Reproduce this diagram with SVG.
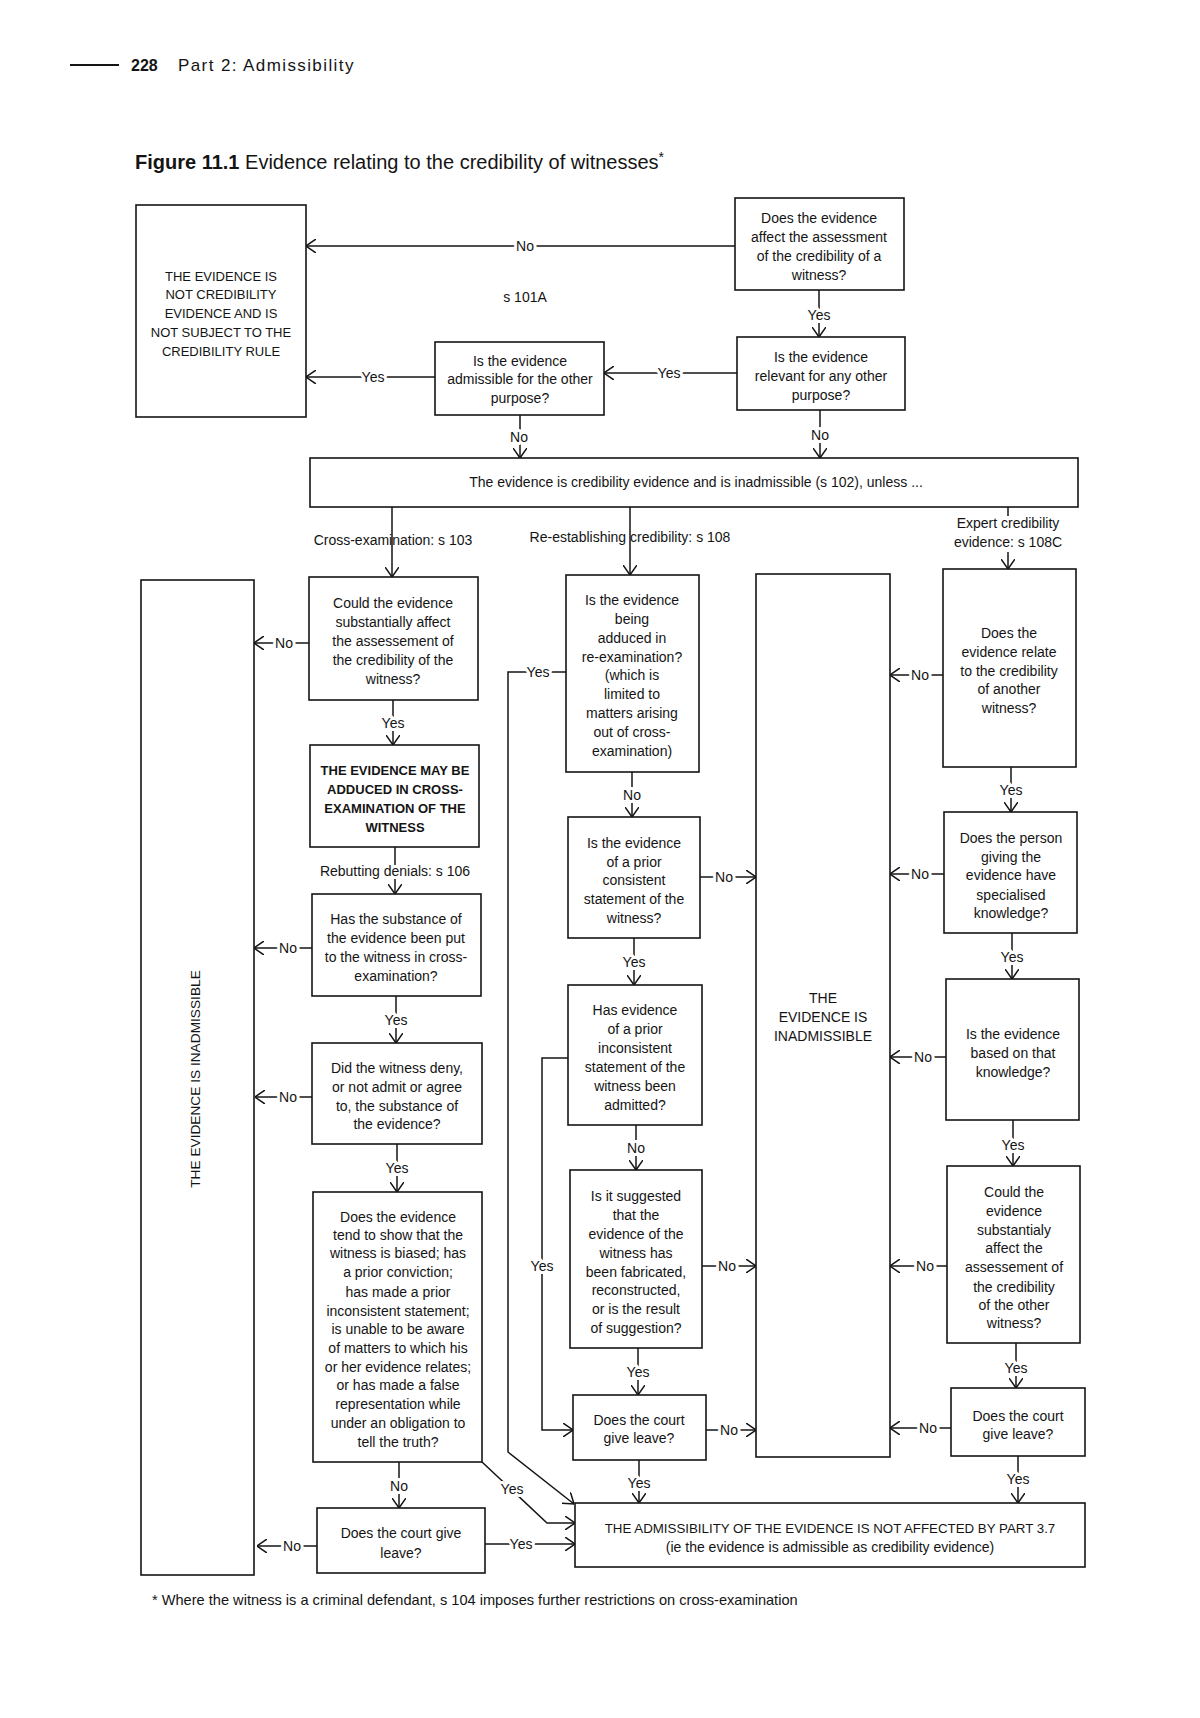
<svg xmlns="http://www.w3.org/2000/svg" width="1200" height="1718" viewBox="0 0 1200 1718">
<defs>
<style>
.b{fill:#fff;stroke:#141414;stroke-width:1.6}
.c{fill:none;stroke:#141414;stroke-width:1.5}
.t{font-family:"Liberation Sans",Arial,sans-serif;font-size:14px;fill:#141414;text-anchor:middle}
.cap{font-size:13px}
.bd{font-weight:bold}
.l{font-family:"Liberation Sans",Arial,sans-serif;font-size:14px;fill:#141414;text-anchor:middle;paint-order:stroke;stroke:#fff;stroke-width:6px;stroke-linejoin:round}
</style>
<marker id="a" viewBox="0 0 10 14" refX="10" refY="7" markerWidth="10" markerHeight="14" markerUnits="userSpaceOnUse" orient="auto">
<path d="M0,0 L10,7 L0,14" fill="none" stroke="#141414" stroke-width="1.5"/>
</marker>
</defs>
<rect width="1200" height="1718" fill="#fff"/>

<g id="header">
<path d="M70,65 H119" stroke="#141414" stroke-width="2"/>
<text x="131" y="71" style="font-family:'Liberation Sans',Arial,sans-serif;font-size:16px;font-weight:bold;fill:#141414">228</text>
<text x="178" y="71" style="font-family:'Liberation Sans',Arial,sans-serif;font-size:17px;letter-spacing:1.4px;fill:#141414">Part 2: Admissibility</text>
<text x="135" y="169" style="font-family:'Liberation Sans',Arial,sans-serif;font-size:20px;fill:#141414"><tspan font-weight="bold">Figure 11.1</tspan> Evidence relating to the credibility of witnesses<tspan dy="-7" font-size="14">*</tspan></text>
</g>

<g id="connectors">
<path class="c" d="M735,246 H306" marker-end="url(#a)"/>
<path class="c" d="M819,290 V337" marker-end="url(#a)"/>
<path class="c" d="M737,373 H604" marker-end="url(#a)"/>
<path class="c" d="M435,377 H306" marker-end="url(#a)"/>
<path class="c" d="M520,415 V458" marker-end="url(#a)"/>
<path class="c" d="M820,410 V458" marker-end="url(#a)"/>
<path class="c" d="M392,507 V577" marker-end="url(#a)"/>
<path class="c" d="M630,507 V575" marker-end="url(#a)"/>
<path class="c" d="M1008,507 V516"/>
<path class="c" d="M1008,552 V569" marker-end="url(#a)"/>
<path class="c" d="M309,643 H254" marker-end="url(#a)"/>
<path class="c" d="M393,700 V745" marker-end="url(#a)"/>
<path class="c" d="M395,847 V894" marker-end="url(#a)"/>
<path class="c" d="M312,948 H254" marker-end="url(#a)"/>
<path class="c" d="M396,996 V1043" marker-end="url(#a)"/>
<path class="c" d="M312,1097 H255" marker-end="url(#a)"/>
<path class="c" d="M397,1144 V1192" marker-end="url(#a)"/>
<path class="c" d="M399,1462 V1508" marker-end="url(#a)"/>
<path class="c" d="M482,1462 L547,1523 H575" marker-end="url(#a)"/>
<path class="c" d="M317,1546 H257" marker-end="url(#a)"/>
<path class="c" d="M485,1544 H575" marker-end="url(#a)"/>
<path class="c" d="M566,672 H508 V1452 L574,1504" marker-end="url(#a)"/>
<path class="c" d="M632,772 V817" marker-end="url(#a)"/>
<path class="c" d="M700,877 H756" marker-end="url(#a)"/>
<path class="c" d="M634,938 V985" marker-end="url(#a)"/>
<path class="c" d="M568,1058 H542 V1430 H573" marker-end="url(#a)"/>
<path class="c" d="M636,1125 V1170" marker-end="url(#a)"/>
<path class="c" d="M702,1266 H756" marker-end="url(#a)"/>
<path class="c" d="M638,1348 V1395" marker-end="url(#a)"/>
<path class="c" d="M706,1430 H756" marker-end="url(#a)"/>
<path class="c" d="M639,1460 V1503" marker-end="url(#a)"/>
<path class="c" d="M943,675 H890" marker-end="url(#a)"/>
<path class="c" d="M1011,767 V812" marker-end="url(#a)"/>
<path class="c" d="M944,874 H890" marker-end="url(#a)"/>
<path class="c" d="M1012,933 V979" marker-end="url(#a)"/>
<path class="c" d="M946,1057 H890" marker-end="url(#a)"/>
<path class="c" d="M1013,1120 V1166" marker-end="url(#a)"/>
<path class="c" d="M947,1266 H890" marker-end="url(#a)"/>
<path class="c" d="M1016,1343 V1388" marker-end="url(#a)"/>
<path class="c" d="M951,1428 H890" marker-end="url(#a)"/>
<path class="c" d="M1018,1456 V1503" marker-end="url(#a)"/>

<text class="l" x="525" y="251">No</text>
<text class="t" x="525" y="302">s 101A</text>
<text class="l" x="819" y="320">Yes</text>
<text class="l" x="669" y="378">Yes</text>
<text class="l" x="373" y="382">Yes</text>
<text class="l" x="519" y="442">No</text>
<text class="l" x="820" y="440">No</text>
<text class="t" x="393" y="545">Cross-examination: s 103</text>
<text class="t" x="630" y="542">Re-establishing credibility: s 108</text>
<text class="t" x="1008" y="528">Expert credibility</text>
<text class="t" x="1008" y="547">evidence: s 108C</text>
<text class="l" x="284" y="648">No</text>
<text class="l" x="393" y="728">Yes</text>
<text class="l" x="395" y="876">Rebutting denials: s 106</text>
<text class="l" x="288" y="953">No</text>
<text class="l" x="396" y="1025">Yes</text>
<text class="l" x="288" y="1102">No</text>
<text class="l" x="397" y="1173">Yes</text>
<text class="l" x="399" y="1491">No</text>
<text class="l" x="512" y="1494">Yes</text>
<text class="l" x="292" y="1551">No</text>
<text class="l" x="521" y="1549">Yes</text>
<text class="l" x="538" y="677">Yes</text>
<text class="l" x="632" y="800">No</text>
<text class="l" x="724" y="882">No</text>
<text class="l" x="634" y="967">Yes</text>
<text class="l" x="542" y="1271">Yes</text>
<text class="l" x="636" y="1153">No</text>
<text class="l" x="727" y="1271">No</text>
<text class="l" x="638" y="1377">Yes</text>
<text class="l" x="729" y="1435">No</text>
<text class="l" x="639" y="1488">Yes</text>
<text class="l" x="920" y="680">No</text>
<text class="l" x="1011" y="795">Yes</text>
<text class="l" x="920" y="879">No</text>
<text class="l" x="1012" y="962">Yes</text>
<text class="l" x="923" y="1062">No</text>
<text class="l" x="1013" y="1150">Yes</text>
<text class="l" x="925" y="1271">No</text>
<text class="l" x="1016" y="1373">Yes</text>
<text class="l" x="928" y="1433">No</text>
<text class="l" x="1018" y="1484">Yes</text>
</g>

<g id="n1"><rect class="b" x="136" y="205" width="170" height="212"/>
<text class="t cap" x="221" y="281">THE EVIDENCE IS</text><text class="t cap" x="221" y="299">NOT CREDIBILITY</text><text class="t cap" x="221" y="318">EVIDENCE AND IS</text><text class="t cap" x="221" y="337">NOT SUBJECT TO THE</text><text class="t cap" x="221" y="356">CREDIBILITY RULE</text></g>

<g id="n2"><rect class="b" x="735" y="198" width="169" height="92"/>
<text class="t" x="819" y="223">Does the evidence</text><text class="t" x="819" y="242">affect the assessment</text><text class="t" x="819" y="261">of the credibility of a</text><text class="t" x="819" y="280">witness?</text></g>

<g id="n3"><rect class="b" x="737" y="337" width="168" height="73"/>
<text class="t" x="821" y="362">Is the evidence</text><text class="t" x="821" y="381">relevant for any other</text><text class="t" x="821" y="400">purpose?</text></g>

<g id="n4"><rect class="b" x="435" y="342" width="169" height="73"/>
<text class="t" x="520" y="366">Is the evidence</text><text class="t" x="520" y="384">admissible for the other</text><text class="t" x="520" y="403">purpose?</text></g>

<g id="n5"><rect class="b" x="310" y="458" width="768" height="49"/>
<text class="t" x="696" y="487">The evidence is credibility evidence and is inadmissible (s 102), unless ...</text></g>

<g id="n6"><rect class="b" x="141" y="580" width="113" height="995"/>
<text class="t" transform="translate(200,1079) rotate(-90)" x="0" y="0" style="font-size:13.7px">THE EVIDENCE IS INADMISSIBLE</text></g>

<g id="n7"><rect class="b" x="309" y="577" width="169" height="123"/>
<text class="t" x="393" y="608">Could the evidence</text><text class="t" x="393" y="627">substantially affect</text><text class="t" x="393" y="646">the assessement of</text><text class="t" x="393" y="665">the credibility of the</text><text class="t" x="393" y="684">witness?</text></g>

<g id="n8"><rect class="b" x="310" y="745" width="169" height="102"/>
<text class="t cap bd" x="395" y="775">THE EVIDENCE MAY BE</text><text class="t cap bd" x="395" y="794">ADDUCED IN CROSS-</text><text class="t cap bd" x="395" y="813">EXAMINATION OF THE</text><text class="t cap bd" x="395" y="832">WITNESS</text></g>

<g id="n9"><rect class="b" x="312" y="894" width="169" height="102"/>
<text class="t" x="396" y="924">Has the substance of</text><text class="t" x="396" y="943">the evidence been put</text><text class="t" x="396" y="962">to the witness in cross-</text><text class="t" x="396" y="981">examination?</text></g>

<g id="n10"><rect class="b" x="312" y="1043" width="170" height="101"/>
<text class="t" x="397" y="1073">Did the witness deny,</text><text class="t" x="397" y="1092">or not admit or agree</text><text class="t" x="397" y="1111">to, the substance of</text><text class="t" x="397" y="1129">the evidence?</text></g>

<g id="n11"><rect class="b" x="313" y="1192" width="169" height="270"/>
<text class="t" x="398" y="1222">Does the evidence</text><text class="t" x="398" y="1240">tend to show that the</text><text class="t" x="398" y="1258">witness is biased; has</text><text class="t" x="398" y="1277">a prior conviction;</text><text class="t" x="398" y="1297">has made a prior</text><text class="t" x="398" y="1316">inconsistent statement;</text><text class="t" x="398" y="1334">is unable to be aware</text><text class="t" x="398" y="1353">of matters to which his</text><text class="t" x="398" y="1372">or her evidence relates;</text><text class="t" x="398" y="1390">or has made a false</text><text class="t" x="398" y="1409">representation while</text><text class="t" x="398" y="1428">under an obligation to</text><text class="t" x="398" y="1447">tell the truth?</text></g>

<g id="n12"><rect class="b" x="317" y="1508" width="168" height="65"/>
<text class="t" x="401" y="1538">Does the court give</text><text class="t" x="401" y="1558">leave?</text></g>

<g id="n13"><rect class="b" x="566" y="575" width="133" height="197"/>
<text class="t" x="632" y="605">Is the evidence</text><text class="t" x="632" y="624">being</text><text class="t" x="632" y="643">adduced in</text><text class="t" x="632" y="662">re-examination?</text><text class="t" x="632" y="680">(which is</text><text class="t" x="632" y="699">limited to</text><text class="t" x="632" y="718">matters arising</text><text class="t" x="632" y="737">out of cross-</text><text class="t" x="632" y="756">examination)</text></g>

<g id="n14"><rect class="b" x="568" y="817" width="132" height="121"/>
<text class="t" x="634" y="848">Is the evidence</text><text class="t" x="634" y="867">of a prior</text><text class="t" x="634" y="885">consistent</text><text class="t" x="634" y="904">statement of the</text><text class="t" x="634" y="923">witness?</text></g>

<g id="n15"><rect class="b" x="568" y="985" width="134" height="140"/>
<text class="t" x="635" y="1015">Has evidence</text><text class="t" x="635" y="1034">of a prior</text><text class="t" x="635" y="1053">inconsistent</text><text class="t" x="635" y="1072">statement of the</text><text class="t" x="635" y="1091">witness been</text><text class="t" x="635" y="1110">admitted?</text></g>

<g id="n16"><rect class="b" x="570" y="1170" width="132" height="178"/>
<text class="t" x="636" y="1201">Is it suggested</text><text class="t" x="636" y="1220">that the</text><text class="t" x="636" y="1239">evidence of the</text><text class="t" x="636" y="1258">witness has</text><text class="t" x="636" y="1277">been fabricated,</text><text class="t" x="636" y="1295">reconstructed,</text><text class="t" x="636" y="1314">or is the result</text><text class="t" x="636" y="1333">of suggestion?</text></g>

<g id="n17"><rect class="b" x="573" y="1395" width="133" height="65"/>
<text class="t" x="639" y="1425">Does the court</text><text class="t" x="639" y="1443">give leave?</text></g>

<g id="n18"><rect class="b" x="756" y="574" width="134" height="883"/>
<text class="t" x="823" y="1003">THE</text><text class="t" x="823" y="1022">EVIDENCE IS</text><text class="t" x="823" y="1041">INADMISSIBLE</text></g>

<g id="n19"><rect class="b" x="943" y="569" width="133" height="198"/>
<text class="t" x="1009" y="638">Does the</text><text class="t" x="1009" y="657">evidence relate</text><text class="t" x="1009" y="676">to the credibility</text><text class="t" x="1009" y="694">of another</text><text class="t" x="1009" y="713">witness?</text></g>

<g id="n20"><rect class="b" x="944" y="812" width="133" height="121"/>
<text class="t" x="1011" y="843">Does the person</text><text class="t" x="1011" y="862">giving the</text><text class="t" x="1011" y="880">evidence have</text><text class="t" x="1011" y="900">specialised</text><text class="t" x="1011" y="918">knowledge?</text></g>

<g id="n21"><rect class="b" x="946" y="979" width="133" height="141"/>
<text class="t" x="1013" y="1039">Is the evidence</text><text class="t" x="1013" y="1058">based on that</text><text class="t" x="1013" y="1077">knowledge?</text></g>

<g id="n22"><rect class="b" x="947" y="1166" width="133" height="177"/>
<text class="t" x="1014" y="1197">Could the</text><text class="t" x="1014" y="1216">evidence</text><text class="t" x="1014" y="1235">substantialy</text><text class="t" x="1014" y="1253">affect the</text><text class="t" x="1014" y="1272">assessement of</text><text class="t" x="1014" y="1292">the credibility</text><text class="t" x="1014" y="1310">of the other</text><text class="t" x="1014" y="1328">witness?</text></g>

<g id="n23"><rect class="b" x="951" y="1388" width="134" height="68"/>
<text class="t" x="1018" y="1421">Does the court</text><text class="t" x="1018" y="1439">give leave?</text></g>

<g id="n24"><rect class="b" x="575" y="1503" width="510" height="64"/>
<text class="t" x="830" y="1533" style="font-size:13.3px">THE ADMISSIBILITY OF THE EVIDENCE IS NOT AFFECTED BY PART 3.7</text><text class="t" x="830" y="1552">(ie the evidence is admissible as credibility evidence)</text></g>

<text x="152" y="1605" style="font-family:'Liberation Sans',Arial,sans-serif;font-size:14.6px;fill:#141414">* Where the witness is a criminal defendant, s 104 imposes further restrictions on cross-examination</text>
</svg>
